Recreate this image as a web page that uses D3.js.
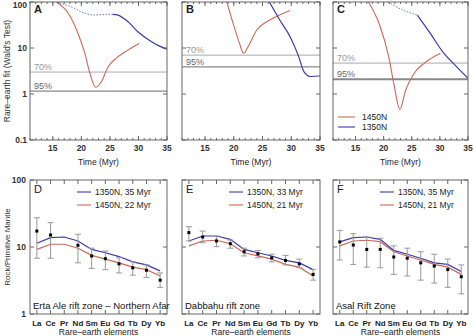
<!DOCTYPE html>
<html>
<head>
<meta charset="utf-8">
<script src="https://cdn.jsdelivr.net/npm/d3@7"></script>
<style>
  body { margin: 0; background: #fff; }
  svg { display: block; font-family: "Liberation Sans", Arial, sans-serif; }
</style>
</head>
<body>
<div id="fig"></div>
<script>
// ---- data: Wald's test fit vs time (t in Myr, fit value) ----
var fitA_1450 = [[15.6,100],[17.7,57],[19.4,21],[20.6,7.7],[21.5,2.8],[22.5,1.4],[23.5,1.85],[24.7,3.9],[26.1,6.0],[28.2,9.1],[30.1,12.6]];
var fitA_1350dot = [[16.2,94],[18.2,79],[20,61],[22.3,52],[24.7,54],[25.5,54]];
var fitA_1350 = [[25.5,54],[26.4,52],[28.2,37],[29.9,22.6],[32.3,13.7],[33.7,11],[35,9.4]];

var fitB_1450 = [[18.8,100],[19.9,34],[21.0,12.6],[21.7,7.7],[22.5,10.7],[24,24.6],[25.7,37],[28,52],[29.8,65]];
var fitB_1350dot = [];
var fitB_1350 = [[26.2,100],[28,40.6],[29.8,17.6],[31.3,6.5],[32.2,3.06],[33.3,2.4],[34.7,2.46],[35,2.46]];

var fitC_1450 = [[17.3,100],[19.4,29],[20.9,6.5],[21.8,1.7],[22.9,0.46],[23.9,1.2],[25.4,2.8],[27.2,4.65],[30.1,7.7]];
var fitC_1350dot = [[20.8,100],[23.2,69],[26,52]];
var fitC_1350 = [[26,52],[28.3,20.8],[30.7,7.7],[33,3.9],[35,2.2]];

// confidence levels (70%, 95%) per panel
var conf70 = [3.0, 7.0, 4.7];
var conf95 = [1.16, 3.9, 2.1];

var timeTicks = [15, 20, 25, 30, 35];
var fitTicks = [0.1, 1, 10, 100];

// ---- data: REE patterns normalised to primitive mantle ----
var elements = ["La","Ce","Pr","Nd","Sm","Eu","Gd","Tb","Dy","Yb"];

// observed value, upper, lower (null = not measured)
var obsD = [17.3,15.1,null,10.6,7.35,6.7,5.6,4.9,4.5,3.2];
var obsDhi = [27.3,23.1,null,15.5,9.6,8.7,6.9,6.0,5.4,4.1];
var obsDlo = [6.8,6.8,null,5.8,4.8,4.6,4.1,3.8,3.5,2.5];
var modD_1350 = [11.4,13.8,14.1,12.3,9.2,8.2,7.2,6.0,5.4,4.4];
var modD_1450 = [9.2,11.0,11.0,9.6,7.5,6.6,5.8,5.0,4.6,3.7];

var obsE = [16.4,14.1,12.3,11.2,8.5,7.9,6.9,6.3,5.6,3.9];
var obsEhi = [20.1,17.3,14.6,12.7,9.6,8.9,7.8,7.5,6.6,4.6];
var obsElo = [12.3,11.6,10.1,9.6,7.35,6.9,6.0,5.4,4.9,3.2];
var modE_1350 = [12.3,14.6,14.6,13.0,9.2,8.2,7.35,6.3,5.8,4.6];
var modE_1450 = [10.4,12.3,12.6,11.2,8.2,7.35,6.6,5.5,5.0,3.7];

var obsF = [11.9,10.7,9.2,9.2,7.1,6.8,5.8,5.2,4.6,3.6];
var obsFhi = [17.7,15.8,14.1,13.5,10.4,9.6,8.5,7.8,6.6,5.4];
var obsFlo = [6.4,5.5,5.0,4.9,3.9,3.7,3.2,2.9,2.5,2.0];
var modF_1350 = [11.9,13.8,14.1,13.0,8.9,7.8,6.8,5.8,5.5,4.3];
var modF_1450 = [10.4,12.3,12.6,12.0,8.5,7.35,6.4,5.5,5.0,3.9];

var reeTicks = [1, 10, 100];

var RED = "#c9695a", BLUE = "#3a3aaa", AXIS = "#666";

var svg = d3.select("#fig").append("svg")
  .attr("width", 474).attr("height", 336);

var cols = [[30,167],[182,320],[333,468]];
var topY = [2,140], botY = [180,314];

// inward ticks on all four sides
function frame(g, x, y, xTicks, xMinor, yTicks) {
  var x0 = x.range()[0], x1 = x.range()[x.range().length-1];
  var y0 = y.range()[0], y1 = y.range()[1];
  g.append("rect").attr("x", x0).attr("y", y1).attr("width", x1-x0).attr("height", y0-y1)
    .attr("fill", "none").attr("stroke", AXIS).attr("stroke-width", 1);
  xMinor.forEach(function(v){
    var px = x(v);
    g.append("line").attr("x1",px).attr("x2",px).attr("y1",y0).attr("y2",y0-2).attr("stroke",AXIS);
    g.append("line").attr("x1",px).attr("x2",px).attr("y1",y1).attr("y2",y1+2).attr("stroke",AXIS);
  });
  xTicks.forEach(function(v){
    var px = x(v);
    g.append("line").attr("x1",px).attr("x2",px).attr("y1",y0).attr("y2",y0-4).attr("stroke",AXIS);
    g.append("line").attr("x1",px).attr("x2",px).attr("y1",y1).attr("y2",y1+4).attr("stroke",AXIS);
  });
  yTicks.forEach(function(v){
    var py = y(v);
    g.append("line").attr("x1",x0).attr("x2",x0+4).attr("y1",py).attr("y2",py).attr("stroke",AXIS);
    g.append("line").attr("x1",x1).attr("x2",x1-4).attr("y1",py).attr("y2",py).attr("stroke",AXIS);
  });
}

// ---------- top row: fit vs time ----------
var topData = [
  {id:"A", red:fitA_1450, dot:fitA_1350dot, blue:fitA_1350},
  {id:"B", red:fitB_1450, dot:fitB_1350dot, blue:fitB_1350},
  {id:"C", red:fitC_1450, dot:fitC_1350dot, blue:fitC_1350}
];

var minorTime = d3.range(11, 36);

topData.forEach(function(p, i){
  var x = d3.scaleLinear().domain([11,35]).range(cols[i]);
  var y = d3.scaleLog().domain([0.1,100]).range([topY[1], topY[0]]);
  var g = svg.append("g");

  g.append("clipPath").attr("id","clip"+p.id).append("rect")
    .attr("x",cols[i][0]).attr("y",topY[0]).attr("width",cols[i][1]-cols[i][0]).attr("height",topY[1]-topY[0]);

  // confidence lines
  g.append("line").attr("x1",cols[i][0]).attr("x2",cols[i][1])
    .attr("y1",y(conf70[i])).attr("y2",y(conf70[i])).attr("stroke","#aaa").attr("stroke-width",1);
  g.append("line").attr("x1",cols[i][0]).attr("x2",cols[i][1])
    .attr("y1",y(conf95[i])).attr("y2",y(conf95[i])).attr("stroke","#888").attr("stroke-width",i==2?2:1.2);
  g.append("text").attr("x",cols[i][0]+4).attr("y",y(conf70[i])-2)
    .attr("font-size",9).attr("fill","#999").text("70%");
  g.append("text").attr("x",cols[i][0]+4).attr("y",y(conf95[i])-2)
    .attr("font-size",9).attr("fill","#666").text("95%");

  var line = d3.line().x(function(d){return x(d[0]);}).y(function(d){return y(d[1]);})
    .curve(d3.curveMonotoneX);
  var cg = g.append("g").attr("clip-path","url(#clip"+p.id+")");
  cg.append("path").attr("d",line(p.red)).attr("fill","none").attr("stroke",RED).attr("stroke-width",1.1);
  if (p.dot.length)
    cg.append("path").attr("d",line(p.dot)).attr("fill","none").attr("stroke",BLUE)
      .attr("stroke-width",1).attr("stroke-dasharray","1.5,1.5").attr("opacity",0.7);
  cg.append("path").attr("d",line(p.blue)).attr("fill","none").attr("stroke",BLUE).attr("stroke-width",1.2);

  frame(g, x, y, timeTicks, minorTime, fitTicks);

  g.append("text").attr("x",cols[i][0]+4).attr("y",13).attr("font-size",11).attr("font-weight","bold")
    .attr("fill","#222").text(p.id);

  if (i == 0) {
    fitTicks.forEach(function(v){
      g.append("text").attr("x",cols[i][0]-3).attr("y",Math.max(y(v)+3, 8)).attr("text-anchor","end")
        .attr("font-size",8.5).attr("font-weight","bold").attr("fill","#333").text(v);
    });
    g.append("text").attr("transform","translate(10,"+((topY[0]+topY[1])/2)+") rotate(-90)")
      .attr("text-anchor","middle").attr("font-size",8.5).attr("fill","#333")
      .text("Rare\u2013earth fit (Wald's Test)");
  }
  timeTicks.forEach(function(v){
    g.append("text").attr("x",x(v)).attr("y",topY[1]+11).attr("text-anchor","middle")
      .attr("font-size",8.5).attr("font-weight","bold").attr("fill","#333").text(v);
  });
  g.append("text").attr("x",(cols[i][0]+cols[i][1])/2).attr("y",topY[1]+25).attr("text-anchor","middle")
    .attr("font-size",8.5).attr("fill","#222").text("Time (Myr)");

  if (i == 2) {
    var lx = cols[i][0];
    [[RED,"1450N"],[BLUE,"1350N"]].forEach(function(e, k){
      var ly = 117 + k*10;
      g.append("line").attr("x1",lx+5).attr("x2",lx+22).attr("y1",ly).attr("y2",ly)
        .attr("stroke",e[0]).attr("stroke-width",1.1);
      g.append("text").attr("x",lx+29).attr("y",ly+3).attr("font-size",8.5).attr("fill","#222").text(e[1]);
    });
  }
});

// ---------- bottom row: REE patterns ----------
var botData = [
  {id:"D", obs:obsD, hi:obsDhi, lo:obsDlo, m1350:modD_1350, m1450:modD_1450,
   leg:["1350N, 35 Myr","1450N, 22 Myr"], site:"Erta Ale rift zone \u2013 Northern Afar"},
  {id:"E", obs:obsE, hi:obsEhi, lo:obsElo, m1350:modE_1350, m1450:modE_1450,
   leg:["1350N, 33 Myr","1450N, 21 Myr"], site:"Dabbahu rift zone"},
  {id:"F", obs:obsF, hi:obsFhi, lo:obsFlo, m1350:modF_1350, m1450:modF_1450,
   leg:["1350N, 35 Myr","1450N, 21 Myr"], site:"Asal Rift Zone"}
];

botData.forEach(function(p, i){
  var x = d3.scalePoint().domain(elements).range(cols[i]).padding(0.5);
  var y = d3.scaleLog().domain([1,100]).range([botY[1], botY[0]]);
  var g = svg.append("g");

  var line = d3.line().x(function(d,k){return x(elements[k]);}).y(function(d){return y(d);});
  g.append("path").attr("d",line(p.m1450)).attr("fill","none").attr("stroke",RED).attr("stroke-width",1.2);
  g.append("path").attr("d",line(p.m1350)).attr("fill","none").attr("stroke",BLUE).attr("stroke-width",1.2);

  elements.forEach(function(el, k){
    if (p.obs[k] == null) return;
    var px = x(el);
    g.append("line").attr("x1",px).attr("x2",px).attr("y1",y(p.hi[k])).attr("y2",y(p.lo[k]))
      .attr("stroke","#999").attr("stroke-width",1);
    [p.hi[k], p.lo[k]].forEach(function(v){
      g.append("line").attr("x1",px-3).attr("x2",px+3).attr("y1",y(v)).attr("y2",y(v))
        .attr("stroke","#999").attr("stroke-width",1);
    });
    g.append("rect").attr("x",px-1.5).attr("y",y(p.obs[k])-1.5).attr("width",3).attr("height",3)
      .attr("fill","#000");
  });

  frame(g, x, y, elements, [], reeTicks);

  g.append("text").attr("x",cols[i][0]+4).attr("y",botY[0]+13).attr("font-size",11)
    .attr("fill","#222").text(p.id);

  var lx = cols[i][0];
  [[BLUE,p.leg[0]],[RED,p.leg[1]]].forEach(function(e, k){
    var ly = 192 + k*13;
    g.append("line").attr("x1",lx+47).attr("x2",lx+61).attr("y1",ly).attr("y2",ly)
      .attr("stroke",e[0]).attr("stroke-width",1.1);
    g.append("text").attr("x",lx+65).attr("y",ly+3).attr("font-size",8.5).attr("fill","#222").text(e[1]);
  });

  g.append("text").attr("x",cols[i][0]+3).attr("y",botY[1]-5).attr("font-size",9.5)
    .attr("fill","#111").text(p.site);

  elements.forEach(function(el){
    g.append("text").attr("x",x(el)).attr("y",botY[1]+12).attr("text-anchor","middle")
      .attr("font-size",8).attr("font-weight","bold").attr("fill","#222").text(el);
  });
  g.append("text").attr("x",(cols[i][0]+cols[i][1])/2).attr("y",botY[1]+21).attr("text-anchor","middle")
    .attr("font-size",8.5).attr("fill","#222").text("Rare\u2013earth elements");

  if (i == 0) {
    reeTicks.forEach(function(v){
      g.append("text").attr("x",cols[i][0]-4).attr("y",Math.max(y(v)+3, botY[0]+3)).attr("text-anchor","end")
        .attr("font-size",8.5).attr("font-weight","bold").attr("fill","#333").text(v);
    });
    g.append("text").attr("transform","translate(10,"+((botY[0]+botY[1])/2)+") rotate(-90)")
      .attr("text-anchor","middle").attr("font-size",8).attr("fill","#333")
      .text("Rock/Primitive Mantle");
  }
});
</script>
</body>
</html>
